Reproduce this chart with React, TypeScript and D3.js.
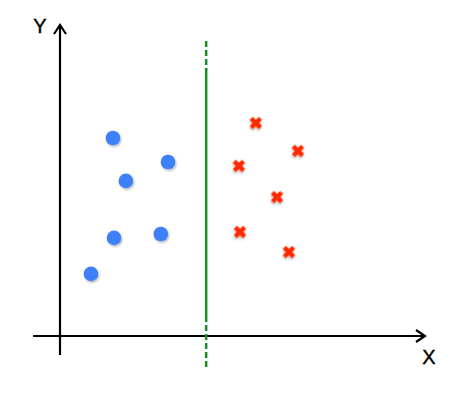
import React from "react";
import * as d3 from "d3";

const W = 452;
const H = 395;

const blueX = [1.47, 3.0, 1.83, 1.5, 2.8, 0.86];
const blueY = [6.6, 5.8, 5.17, 3.27, 3.4, 2.07];
const redX = [5.44, 6.61, 4.97, 6.03, 5.0, 6.36];
const redY = [7.1, 6.17, 5.67, 4.63, 3.47, 2.8];
const boundaryX = 4.06;
const axisLabels = ["X", "Y"];

export default function App() {
  const x = d3.scaleLinear().domain([0, 10]).range([60, 420]);
  const y = d3.scaleLinear().domain([0, 10]).range([336, 36]);
  const crossPath = d3.symbol().type(d3.symbolCross).size(95)() as string;
  const x0 = x(0);
  const y0 = y(0);
  const xb = x(boundaryX);
  return (
    <svg width={W} height={H} style={{ position: "absolute", left: 0, top: 0 }}>
      <defs>
        <filter id="sh" x="-50%" y="-50%" width="200%" height="200%">
          <feDropShadow dx="1" dy="1.5" stdDeviation="1" floodColor="#000" floodOpacity="0.3" />
        </filter>
      </defs>
      <rect width={W} height={H} fill="#fff" />
      {/* axes */}
      <line x1={x0} y1={355} x2={x0} y2={25} stroke="#000" strokeWidth={2.2} />
      <polyline points={`${x0 - 6},${34} ${x0},${25} ${x0 + 6},${34}`} fill="none" stroke="#000" strokeWidth={2.2} />
      <line x1={33} y1={y0} x2={425} y2={y0} stroke="#000" strokeWidth={2.2} />
      <polyline points={`${416},${y0 - 6} ${425},${y0} ${416},${y0 + 6}`} fill="none" stroke="#000" strokeWidth={2.2} />
      <text x={429} y={364} textAnchor="middle" fontFamily="Liberation Sans, Arial, sans-serif" fontSize={20} stroke="#000" strokeWidth={0.4} fill="#000">{axisLabels[0]}</text>
      <text x={40} y={33} textAnchor="middle" fontFamily="Liberation Sans, Arial, sans-serif" fontSize={20} stroke="#000" strokeWidth={0.4} fill="#000">{axisLabels[1]}</text>
      {/* boundary */}
      <line x1={xb} y1={41} x2={xb} y2={70} stroke="#1a9020" strokeWidth={2.5} strokeDasharray="6,3" />
      <line x1={xb} y1={69} x2={xb} y2={322} stroke="#1a9020" strokeWidth={2.5} />
      <line x1={xb} y1={325} x2={xb} y2={368} stroke="#1a9020" strokeWidth={2.5} strokeDasharray="6,3" />
      {/* points */}
      {blueX.map((v, i) => (
        <circle key={"b" + i} cx={x(v)} cy={y(blueY[i])} r={7.3} fill="#3d80f7" filter="url(#sh)" />
      ))}
      {redX.map((v, i) => (
        <path key={"r" + i} d={crossPath} transform={`translate(${x(v)},${y(redY[i])}) rotate(45)`} fill="#ff2a00" filter="url(#sh)" />
      ))}
    </svg>
  );
}
